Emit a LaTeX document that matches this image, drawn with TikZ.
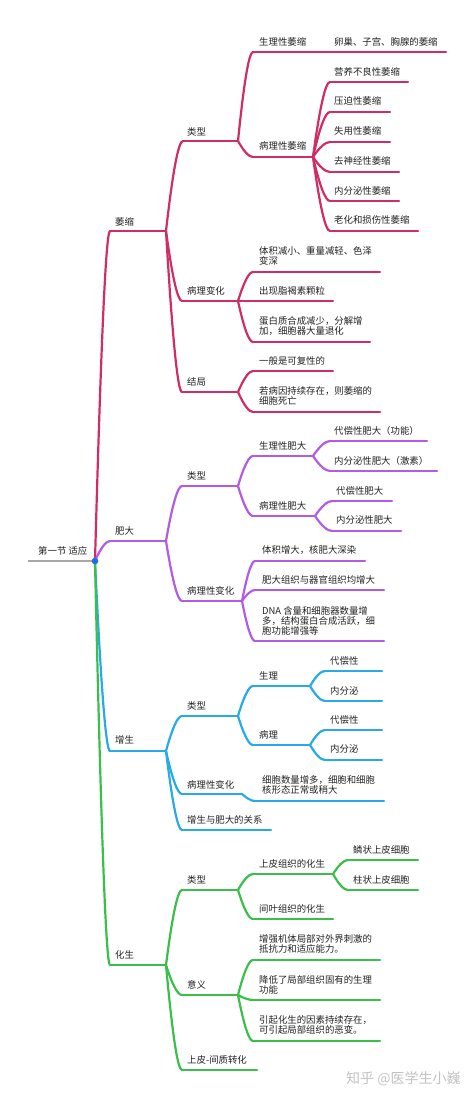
\documentclass[tikz,border=0pt]{standalone}
\usepackage{fontspec}
\newfontfamily\cjk{Noto Sans CJK SC}
\usetikzlibrary{calc}
\definecolor{cw}{RGB}{208,45,100}
\definecolor{cp}{RGB}{178,92,230}
\definecolor{cb}{RGB}{40,170,230}
\definecolor{cg}{RGB}{60,190,75}
\definecolor{cgray}{RGB}{168,168,168}
\definecolor{chub}{RGB}{30,110,235}
\definecolor{ctext}{RGB}{35,35,35}
\definecolor{cmark}{RGB}{195,195,195}
\tikzset{
  lbl/.style={inner sep=0pt,anchor=west,text=ctext,align=left,font=\cjk\fontsize{9.4}{10.4}\selectfont},
  wline/.style={draw=cw,line width=2.2pt,line cap=round},
  pline/.style={draw=cp,line width=2.2pt,line cap=round},
  bline/.style={draw=cb,line width=2.2pt,line cap=round},
  gline/.style={draw=cg,line width=2.2pt,line cap=round},
}
% topic: name, style, text x, text y, underline start x, end x, underline y, text
\newcommand\tp[8]{%
  \node[lbl] (#1) at (#3,#4) {#8};
  \coordinate (#1s) at (#5,#7);
  \coordinate (#1e) at (#6,#7);
  \draw[#2] (#1s) -- (#1e);
}
% link: from, to, style
\newcommand\lk[3]{%
  \draw[#3] let \p1=(#1), \p2=(#2) in (\p1) .. controls (0.6*\x1+0.4*\x2, 0.333*\y1+0.667*\y2) and (0.2667*\x1+0.7333*\x2, \y2) .. (\p2);
}
\begin{document}
\begin{tikzpicture}[x=1pt,y=-1pt]
\useasboundingbox[fill=white] (0,0) rectangle (474,1099);
% root
\node[lbl] (root) at (38,551) {第一节 适应};
\coordinate (rootl) at (28,561);
\coordinate (hub) at (95,561);
\draw[draw=cgray,line width=2.2pt] (rootl) -- (hub);

% ===== 萎缩 =====
\tp{wS}{wline}{115}{222}{110}{166}{231}{萎缩}
\tp{wLX}{wline}{187}{132}{183}{238}{141}{类型}
\tp{wSL}{wline}{259}{42}{253}{330}{52}{生理性萎缩}
\tp{wSLa}{wline}{334}{42}{330}{446}{52}{卵巢、子宫、胸腺的萎缩}
\tp{wBL}{wline}{259}{146}{253}{313}{157}{病理性萎缩}
\tp{wBa}{wline}{334}{72}{330}{408}{82}{营养不良性萎缩}
\tp{wBb}{wline}{334}{101}{330}{390}{112}{压迫性萎缩}
\tp{wBc}{wline}{334}{131}{330}{390}{142}{失用性萎缩}
\tp{wBd}{wline}{334}{161}{330}{399}{172}{去神经性萎缩}
\tp{wBe}{wline}{334}{191}{330}{399}{201}{内分泌性萎缩}
\tp{wBf}{wline}{334}{220}{330}{418}{231}{老化和损伤性萎缩}
\tp{wBH}{wline}{187}{291}{182}{238}{301}{病理变化}
\tp{wHa}{wline}{259}{256}{253}{380}{272}{体积减小、重量减轻、色泽\\变深}
\tp{wHb}{wline}{259}{291}{253}{333}{301}{出现脂褐素颗粒}
\tp{wHc}{wline}{259}{326}{253}{370}{342}{蛋白质合成减少，分解增\\加，细胞器大量退化}
\tp{wJJ}{wline}{187}{382}{182}{238}{392}{结局}
\tp{wJa}{wline}{259}{361}{253}{333}{371}{一般是可复性的}
\tp{wJb}{wline}{259}{396}{253}{380}{412}{若病因持续存在，则萎缩的\\细胞死亡}
\lk{wSe}{wLXs}{wline}
\lk{wSe}{wBHs}{wline}
\lk{wSe}{wJJs}{wline}
\lk{wLXe}{wSLs}{wline}
\lk{wLXe}{wBLs}{wline}
\lk{wSLe}{wSLas}{wline}
\lk{wBLe}{wBas}{wline}
\lk{wBLe}{wBbs}{wline}
\lk{wBLe}{wBcs}{wline}
\lk{wBLe}{wBds}{wline}
\lk{wBLe}{wBes}{wline}
\lk{wBLe}{wBfs}{wline}
\lk{wBHe}{wHas}{wline}
\lk{wBHe}{wHbs}{wline}
\lk{wBHe}{wHcs}{wline}
\lk{wJJe}{wJas}{wline}
\lk{wJJe}{wJbs}{wline}

% ===== 肥大 =====
\tp{fD}{pline}{115}{531}{110}{166}{541}{肥大}
\tp{fLX}{pline}{187}{476}{182}{238}{486}{类型}
\tp{fSL}{pline}{259}{446}{253}{313}{456}{生理性肥大}
\tp{fSa}{pline}{334}{431}{330}{427}{441}{代偿性肥大（功能）}
\tp{fSb}{pline}{334}{461}{330}{437}{471}{内分泌性肥大（激素）}
\tp{fBL}{pline}{259}{506}{253}{315}{516}{病理性肥大}
\tp{fBa}{pline}{336}{491}{332}{392}{501}{代偿性肥大}
\tp{fBb}{pline}{336}{520}{332}{401}{531}{内分泌性肥大}
\tp{fBH}{pline}{187}{591}{182}{242}{601}{病理性变化}
\tp{fHa}{pline}{262}{550}{255}{365}{561}{体积增大，核肥大深染}
\tp{fHb}{pline}{262}{580}{255}{384}{590}{肥大组织与器官组织均增大}
\tp{fHc}{pline}{262}{621}{255}{384}{641}{DNA 含量和细胞器数量增\\多，结构蛋白合成活跃，细\\胞功能增强等}
\lk{fDe}{fLXs}{pline}
\lk{fDe}{fBHs}{pline}
\lk{fLXe}{fSLs}{pline}
\lk{fLXe}{fBLs}{pline}
\lk{fSLe}{fSas}{pline}
\lk{fSLe}{fSbs}{pline}
\lk{fBLe}{fBas}{pline}
\lk{fBLe}{fBbs}{pline}
\lk{fBHe}{fHas}{pline}
\lk{fBHe}{fHbs}{pline}
\lk{fBHe}{fHcs}{pline}

% ===== 增生 =====
\tp{zS}{bline}{115}{740}{110}{166}{751}{增生}
\tp{zLX}{bline}{187}{706}{182}{238}{716}{类型}
\tp{zSL}{bline}{259}{676}{253}{310}{686}{生理}
\tp{zSa}{bline}{330}{661}{325}{382}{671}{代偿性}
\tp{zSb}{bline}{330}{691}{325}{382}{701}{内分泌}
\tp{zBL}{bline}{259}{735}{253}{310}{745}{病理}
\tp{zBa}{bline}{330}{720}{325}{382}{730}{代偿性}
\tp{zBb}{bline}{330}{749}{325}{382}{760}{内分泌}
\tp{zBH}{bline}{187}{785}{182}{242}{794}{病理性变化}
\tp{zHa}{bline}{262}{785}{255}{384}{801}{细胞数量增多，细胞和细胞\\核形态正常或稍大}
\tp{zGX}{bline}{187}{820}{182}{271}{830}{增生与肥大的关系}
\lk{zSe}{zLXs}{bline}
\lk{zSe}{zBHs}{bline}
\lk{zSe}{zGXs}{bline}
\lk{zLXe}{zSLs}{bline}
\lk{zLXe}{zBLs}{bline}
\lk{zSLe}{zSas}{bline}
\lk{zSLe}{zSbs}{bline}
\lk{zBLe}{zBas}{bline}
\lk{zBLe}{zBbs}{bline}
\lk{zBHe}{zHas}{bline}

% ===== 化生 =====
\tp{hS}{gline}{115}{955}{110}{166}{965}{化生}
\tp{hLX}{gline}{187}{880}{182}{238}{890}{类型}
\tp{hSP}{gline}{259}{864}{253}{333}{874}{上皮组织的化生}
\tp{hSa}{gline}{353}{850}{348}{418}{860}{鳞状上皮细胞}
\tp{hSb}{gline}{353}{880}{348}{418}{890}{柱状上皮细胞}
\tp{hJY}{gline}{259}{909}{253}{333}{919}{间叶组织的化生}
\tp{hYY}{gline}{187}{985}{182}{238}{995}{意义}
\tp{hYa}{gline}{259}{944}{253}{380}{960}{增强机体局部对外界刺激的\\抵抗力和适应能力。}
\tp{hYb}{gline}{259}{985}{253}{380}{1000}{降低了局部组织固有的生理\\功能}
\tp{hYc}{gline}{259}{1025}{253}{380}{1041}{引起化生的因素持续存在，\\可引起局部组织的恶变。}
\tp{hZH}{gline}{187}{1060}{182}{257}{1070}{上皮-间质转化}
\lk{hSe}{hLXs}{gline}
\lk{hSe}{hYYs}{gline}
\lk{hSe}{hZHs}{gline}
\lk{hLXe}{hSPs}{gline}
\lk{hLXe}{hJYs}{gline}
\lk{hSPe}{hSas}{gline}
\lk{hSPe}{hSbs}{gline}
\lk{hYYe}{hYas}{gline}
\lk{hYYe}{hYbs}{gline}
\lk{hYYe}{hYcs}{gline}

% trunks from hub
\lk{hub}{wSs}{wline}
\lk{hub}{fDs}{pline}
\lk{hub}{zSs}{bline}
\lk{hub}{hSs}{gline}
\fill[chub] (hub) circle (3.3);

% watermark
\node[inner sep=0pt,anchor=west,text=cmark,font=\cjk\fontsize{14}{14}\selectfont] (mark) at (346,1079) {知乎 @医学生小巍};
\end{tikzpicture}
\end{document}
